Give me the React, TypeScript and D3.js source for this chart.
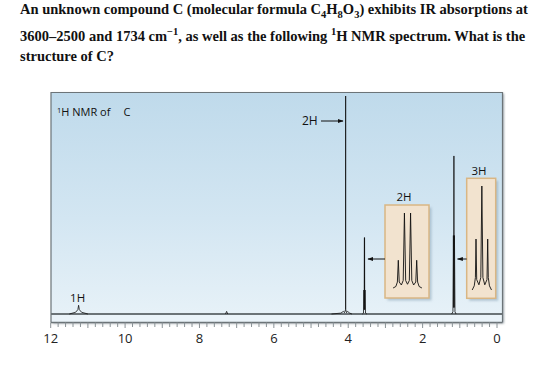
import React from "react";
import * as d3 from "d3";

// ---- data ----
// main spectrum segments: [ppm, relative intensity]
const acidPeak: [number, number][] = [[11.5, 0], [11.33, 0.008], [11.27, 0.02], [11.25, 0.04], [11.23, 0.02], [11.17, 0.008], [11.0, 0]];
const solventPeak: [number, number][] = [[7.3, 0], [7.27, 0.012], [7.24, 0]];
const singletPeak: [number, number][] = [[4.45, 0], [4.2, 0.004], [4.13, 0.012], [4.1, 0.006], [4.072, 0.02], [4.07, 1], [4.068, 0.02], [4.045, 0.006], [4.02, 0.012], [3.96, 0.004], [3.9, 0]];
const quartetPeak: [number, number][] = [[3.62, 0], [3.59, 0.004], [3.578, 0.11], [3.57, 0.02], [3.5645, 0.35], [3.563, 0.05], [3.5615, 0.35], [3.556, 0.02], [3.548, 0.11], [3.535, 0.004], [3.5, 0]];
const tripletPeak: [number, number][] = [[1.22, 0], [1.185, 0.01], [1.172, 0.36], [1.16, 0.03], [1.1585, 0.725], [1.157, 0.03], [1.144, 0.36], [1.13, 0.01], [1.1, 0]];
const spectrumSegments = [acidPeak, solventPeak, singletPeak, quartetPeak, tripletPeak];

// expanded multiplets (offset in J units, relative height)
const quartetInset: [number, number][] = [[-2.35, 0], [-1.9, 0.02], [-1.65, 0.08], [-1.5, 0.37], [-1.35, 0.08], [-1.0, 0.04], [-0.7, 0.1], [-0.5, 1], [-0.3, 0.1], [0, 0.05], [0.3, 0.1], [0.5, 1], [0.7, 0.1], [1.0, 0.04], [1.35, 0.08], [1.5, 0.37], [1.65, 0.08], [1.9, 0.02], [2.35, 0]];
const tripletInset: [number, number][] = [[-1.65, 0], [-1.3, 0.04], [-1.1, 0.12], [-1.0, 0.49], [-0.88, 0.1], [-0.5, 0.05], [-0.18, 0.12], [0, 1], [0.18, 0.12], [0.5, 0.05], [0.88, 0.1], [1.0, 0.49], [1.1, 0.12], [1.3, 0.04], [1.65, 0]];

const tickLabels = [12, 10, 8, 6, 4, 2, 0];
const integrals = [
  { label: "1H", ppm: 11.25, h: 0.04 },
];

const titleFont = "'Liberation Serif', 'Times New Roman', serif";
const sans = "'Open Sans', 'Noto Sans', sans-serif";

export default function App() {
  const x = d3.scaleLinear().domain([12, 0]).range([50.7, 497]);
  const y = d3.scaleLinear().domain([0, 1]).range([314, 96]);
  const line = d3.line<[number, number]>().x((d) => x(d[0])).y((d) => y(d[1]));

  const minorTicks = d3.range(0, 61).map((i) => i * 0.2);

  // inset scales
  const qx = d3.scaleLinear().domain([-1.5, 1.5]).range([398.3, 416.7]);
  const qy = d3.scaleLinear().domain([0, 1]).range([288, 213]);
  const tx = d3.scaleLinear().domain([-1, 1]).range([476, 487.7]);
  const ty = d3.scaleLinear().domain([0, 1]).range([290, 186]);
  const qLine = d3.line<[number, number]>().x((d) => qx(d[0])).y((d) => qy(d[1]));
  const tLine = d3.line<[number, number]>().x((d) => tx(d[0])).y((d) => ty(d[1]));

  const panel = { x: 51, y: 92.5, w: 451.5, h: 230 };

  return (
    <svg width={550} height={369} style={{ position: "absolute", left: 0, top: 0, background: "#fff" }}>
      <defs>
        <linearGradient id="bg" x1="0" y1="0" x2="0" y2="1">
          <stop offset="0" stopColor="#bfdaeb" />
          <stop offset="0.55" stopColor="#d3e6f2" />
          <stop offset="1" stopColor="#e8f2f8" />
        </linearGradient>
        <filter id="blur" x="-20%" y="-20%" width="140%" height="140%">
          <feGaussianBlur stdDeviation="1.2" />
        </filter>
        <marker id="arrR" viewBox="0 0 10 10" refX="9" refY="5" markerWidth="6" markerHeight="6" orient="auto">
          <path d="M0,1.5 L10,5 L0,8.5 z" fill="#111" />
        </marker>
      </defs>

      {/* title */}
      <g fontFamily={titleFont} fontWeight="bold" fontSize={14.5} fill="#111">
        <text x={20} y={14}>
          An unknown compound C (molecular formula C<tspan fontSize={10.5} dy={4}>4</tspan>
          <tspan dy={-4}>H</tspan><tspan fontSize={10.5} dy={4}>8</tspan>
          <tspan dy={-4}>O</tspan><tspan fontSize={10.5} dy={4}>3</tspan>
          <tspan dy={-4}>) exhibits IR absorptions at</tspan>
        </text>
        <text x={20} y={41}>
          3600–2500 and 1734 cm<tspan fontSize={10.5} dy={-6}>−1</tspan>
          <tspan dy={6}>, as well as the following </tspan>
          <tspan fontSize={10.5} dy={-6}>1</tspan>
          <tspan dy={6}>H NMR spectrum. What is the</tspan>
        </text>
        <text x={20} y={61}>structure of C?</text>
      </g>

      {/* panel */}
      <rect x={panel.x + 1.5} y={panel.y + 1} width={panel.w} height={panel.h} fill="#9aa3a8" filter="url(#blur)" />
      <rect x={panel.x} y={panel.y} width={panel.w} height={panel.h} fill="url(#bg)" />
      <rect x={panel.x} y={y(0) + 1} width={panel.w} height={panel.y + panel.h - y(0) - 1} fill="#eaf3f9" />
      <path d={`M${panel.x},${panel.y + panel.h} V${panel.y} H${panel.x + panel.w} V${panel.y + panel.h}`} fill="none" stroke="#6c7478" strokeWidth={1.2} />

      {/* baseline */}
      <line x1={panel.x} x2={panel.x + panel.w} y1={y(0)} y2={y(0)} stroke="#6b7377" strokeWidth={2} />

      {/* spectrum */}
      {spectrumSegments.map((seg, i) => (
        <path key={i} d={line(seg) || ""} fill="none" stroke="#111" strokeWidth={0.8} strokeLinejoin="round" />
      ))}

      {/* axis */}
      <line x1={panel.x} x2={panel.x + panel.w} y1={panel.y + panel.h} y2={panel.y + panel.h} stroke="#6c7478" strokeWidth={1.5} />
      {minorTicks.map((t, i) => (
        <line key={i} x1={x(t)} x2={x(t)} y1={panel.y + panel.h} y2={panel.y + panel.h + (i % 5 === 0 ? 5.5 : 4.5)} stroke="#8a9296" strokeWidth={1} />
      ))}
      <g fontFamily={sans} fontSize={13} fill="#222" textAnchor="middle">
        {tickLabels.map((t) => (
          <text key={t} x={x(t)} y={343}>{t}</text>
        ))}
      </g>

      {/* labels */}
      <g fontFamily={sans} fill="#111">
        <text x={57} y={116} fontSize={11}>
          <tspan fontSize={7.5} dy={-3.5}>1</tspan><tspan dy={3.5}>H NMR of</tspan><tspan dx={13}>C</tspan>
        </text>
        <text x={302} y={125} fontSize={12}>2H</text>
        {integrals.map((d) => (
          <text key={d.label} x={x(d.ppm) - 1} y={302} fontSize={11.5} textAnchor="middle">{d.label}</text>
        ))}
        <text x={404} y={200.5} fontSize={11.5} textAnchor="middle">2H</text>
        <text x={479} y={175} fontSize={11.5} textAnchor="middle">3H</text>
      </g>
      <line x1={321} x2={343} y1={121} y2={121} stroke="#111" strokeWidth={1} markerEnd="url(#arrR)" />

      {/* insets */}
      <rect x={387.5} y={207.5} width={44} height={93} fill="#8fa9bb" opacity={0.6} filter="url(#blur)" />
      <rect x={385} y={205} width={44} height={93} fill="#f2e3cf" stroke="#d9b684" strokeWidth={1.5} />
      <path d={qLine(quartetInset) || ""} fill="none" stroke="#111" strokeWidth={0.9} strokeLinejoin="round" />
      <line x1={385} x2={368} y1={259} y2={259} stroke="#111" strokeWidth={1} markerEnd="url(#arrR)" />

      <rect x={469.2} y={180.8} width={29} height={120} fill="#8fa9bb" opacity={0.6} filter="url(#blur)" />
      <rect x={466.7} y={178.3} width={29} height={120} fill="#f2e3cf" stroke="#d9b684" strokeWidth={1.5} />
      <path d={tLine(tripletInset) || ""} fill="none" stroke="#111" strokeWidth={0.9} strokeLinejoin="round" />
      <line x1={466.7} x2={457.5} y1={259} y2={259} stroke="#111" strokeWidth={1} markerEnd="url(#arrR)" />
    </svg>
  );
}
